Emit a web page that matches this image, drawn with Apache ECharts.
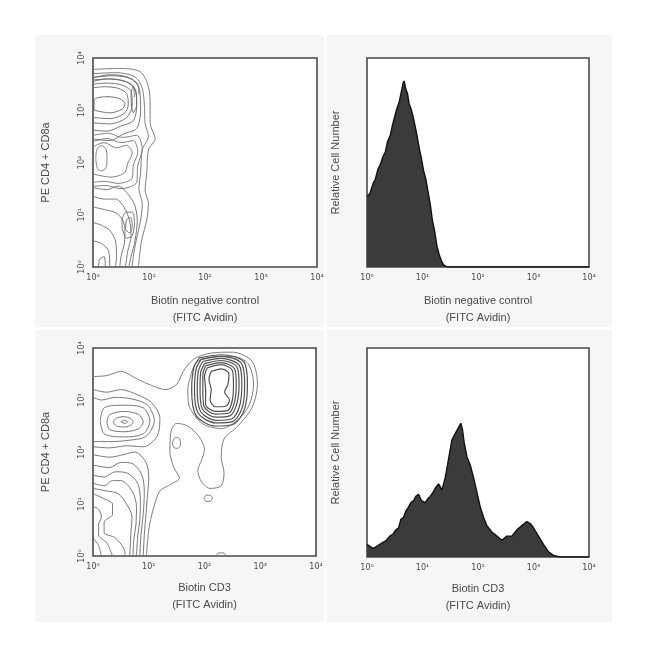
<!DOCTYPE html>
<html>
<head>
<meta charset="utf-8">
<script src="https://cdn.jsdelivr.net/npm/echarts@6/dist/echarts.min.js"></script>
<style>
  html, body { margin: 0; padding: 0; background: #fff; }
  #chart { width: 650px; height: 650px; }
</style>
</head>
<body>
<div id="chart"></div>
<script>
// all x / y positions are in decades (log10 of fluorescence), 0 = 10^0 ... 4 = 10^4
const decadeLabels = ['10\u2070', '10\u00b9', '10\u00b2', '10\u00b3', '10\u2074'];

// top-left: negative control contours [x, y]
const negOuter = [
  [[0,3.78],[0.42,3.8],[0.84,3.74],[0.99,3.45],[1.02,3.07],[1.02,2.75],[1.11,2.46],[0.99,2.24],[0.96,1.79],[0.93,1.47],[0.99,1.22],[0.96,0.9],[0.87,0.52],[0.83,0.2],[0.81,0]],
  [[0,3.7],[0.4,3.72],[0.75,3.64],[0.88,3.42],[0.92,3.05],[0.93,2.75],[0.99,2.5],[0.88,2.25],[0.85,1.8],[0.82,1.5],[0.88,1.2],[0.85,0.9],[0.77,0.5],[0.72,0.2],[0.7,0]]
];
const negTop = [
  [[0,2.45],[0.3,2.42],[0.55,2.55],[0.78,2.65],[0.85,3.0],[0.83,3.4],[0.68,3.6],[0.35,3.66],[0,3.63]],
  [[0,2.62],[0.25,2.6],[0.5,2.7],[0.72,2.8],[0.78,3.1],[0.75,3.4],[0.58,3.55],[0.3,3.6],[0,3.58]],
  [[0,2.76],[0.3,2.74],[0.6,2.86],[0.7,3.1],[0.68,3.36],[0.52,3.48],[0.25,3.52],[0,3.5]],
  [[0,2.86],[0.3,2.84],[0.56,2.94],[0.63,3.12],[0.6,3.32],[0.45,3.42],[0.2,3.45],[0,3.43]],
  [[0.02,3.0],[0.3,2.95],[0.52,3.02],[0.57,3.12],[0.48,3.22],[0.25,3.26],[0.02,3.2],[0.02,3.0]],
  [[0.72,2.95],[0.78,3.1],[0.77,3.35],[0.72,3.45],[0.68,3.3],[0.69,3.05],[0.72,2.95]],
  [[0,3.62],[0.3,3.68],[0.6,3.64],[0.8,3.5],[0.82,3.3]],
  [[0,3.55],[0.25,3.6],[0.55,3.56],[0.72,3.46],[0.74,3.25]]
];
const negMid = [
  [[0,2.3],[0.2,2.38],[0.42,2.28],[0.6,2.33],[0.7,2.18],[0.62,1.98],[0.56,1.8],[0.32,1.72],[0,1.78]],
  [[0.05,2.08],[0.08,1.88],[0.15,1.84],[0.23,1.9],[0.25,2.08],[0.23,2.26],[0.15,2.32],[0.07,2.25],[0.05,2.08]],
  [[0,2.4],[0.25,2.46],[0.5,2.38],[0.72,2.42],[0.8,2.2],[0.72,1.95],[0.7,1.7],[0.45,1.6],[0.2,1.64],[0,1.62]],
  [[0,2.52],[0.28,2.56],[0.52,2.48],[0.78,2.52],[0.88,2.25],[0.8,1.95],[0.78,1.62],[0.5,1.5],[0.22,1.56],[0,1.54]]
];
const negBottom = [
  [[0,1.52],[0.25,1.48],[0.45,1.55],[0.62,1.4],[0.74,1.2],[0.79,0.9],[0.75,0.5],[0.68,0.2],[0.64,0]],
  [[0,1.35],[0.2,1.3],[0.4,1.3],[0.55,1.15],[0.65,0.9],[0.68,0.6],[0.62,0.3],[0.58,0]],
  [[0,1.15],[0.2,1.1],[0.38,1.05],[0.5,0.95],[0.57,0.75],[0.56,0.45],[0.5,0.2],[0.48,0]],
  [[0.52,0.75],[0.6,0.55],[0.7,0.6],[0.74,0.85],[0.7,1.05],[0.6,1.05],[0.52,0.9],[0.52,0.75]],
  [[0.58,0.72],[0.65,0.65],[0.7,0.78],[0.67,0.95],[0.6,0.9],[0.58,0.72]],
  [[0,0.85],[0.15,0.8],[0.3,0.7],[0.4,0.5],[0.42,0.2],[0.4,0]],
  [[0,0.5],[0.15,0.45],[0.28,0.3],[0.3,0]],
  [[0.1,0],[0.12,0.15],[0.2,0.2],[0.22,0]]
];

// bottom-left: CD3 stained contours [x, y]
const cd3Outer = [
  [[0,3.45],[0.25,3.47],[0.5,3.55],[0.8,3.4],[1.05,3.28],[1.3,3.2],[1.5,3.3],[1.62,3.55],[1.8,3.78],[2.1,3.9],[2.5,3.92],[2.85,3.75],[2.95,3.3],[2.85,2.85],[2.6,2.5],[2.35,2.25],[2.3,1.9],[2.35,1.6],[2.3,1.35],[2.1,1.3],[1.95,1.42],[1.88,1.65],[1.95,1.85],[2.0,2.05],[1.9,2.3],[1.7,2.5],[1.5,2.55],[1.4,2.4],[1.38,2.0],[1.45,1.7],[1.55,1.5],[1.4,1.38],[1.2,1.25],[1.08,0.9],[1.0,0.5],[0.96,0]],
  [[1.74,3.42],[1.85,3.72],[2.1,3.82],[2.5,3.84],[2.78,3.7],[2.88,3.3],[2.8,2.9],[2.6,2.62],[2.3,2.45],[2.05,2.5],[1.9,2.6],[1.72,2.9],[1.7,3.2],[1.74,3.42]]
];
const cd3Cluster = [
  [[2.12,3.55],[2.3,3.6],[2.44,3.5],[2.42,3.3],[2.36,3.15],[2.45,3.0],[2.38,2.88],[2.2,2.87],[2.1,3.0],[2.12,3.2],[2.08,3.4],[2.12,3.55]],
  [[2.05,3.62],[2.3,3.68],[2.5,3.57],[2.52,3.3],[2.5,3.0],[2.42,2.8],[2.2,2.78],[2.02,2.92],[2.02,3.2],[2.0,3.45],[2.05,3.62]],
  [[2.02,3.66],[2.3,3.72],[2.54,3.6],[2.57,3.3],[2.54,2.97],[2.44,2.75],[2.2,2.73],[1.99,2.88],[1.97,3.2],[1.97,3.48],[2.02,3.66]],
  [[2.0,3.7],[2.3,3.76],[2.58,3.64],[2.62,3.3],[2.58,2.93],[2.46,2.7],[2.2,2.67],[1.96,2.83],[1.92,3.2],[1.93,3.52],[2.0,3.7]],
  [[1.97,3.74],[2.3,3.8],[2.62,3.67],[2.67,3.3],[2.63,2.89],[2.49,2.64],[2.2,2.61],[1.93,2.78],[1.87,3.2],[1.89,3.56],[1.97,3.74]],
  [[1.94,3.78],[2.3,3.84],[2.66,3.71],[2.72,3.3],[2.68,2.86],[2.51,2.59],[2.2,2.56],[1.89,2.74],[1.82,3.2],[1.85,3.6],[1.94,3.78]],
  [[1.91,3.81],[2.3,3.87],[2.7,3.74],[2.77,3.3],[2.72,2.83],[2.53,2.54],[2.2,2.5],[1.85,2.7],[1.77,3.2],[1.81,3.63],[1.91,3.81]]
];
const cd3Islands = [
  [[1.42,2.17],[1.46,2.08],[1.52,2.07],[1.57,2.15],[1.55,2.26],[1.48,2.28],[1.42,2.17]],
  [[1.99,1.11],[2.03,1.05],[2.1,1.05],[2.14,1.11],[2.1,1.17],[2.03,1.17],[1.99,1.11]],
  [[2.2,0],[2.26,0.06],[2.34,0.06],[2.38,0]]
];
const cd3Upper = [
  [[0,2.1],[0.3,2.08],[0.6,2.12],[0.9,2.1],[1.15,2.3],[1.2,2.65],[1.05,2.95],[0.8,3.1],[0.5,3.2],[0.25,3.15],[0,3.2]],
  [[0,2.2],[0.3,2.2],[0.6,2.22],[0.95,2.3],[1.1,2.6],[0.98,2.9],[0.7,3.02],[0.4,3.05],[0.15,3.0],[0,3.05]],
  [[0.13,2.6],[0.2,2.35],[0.55,2.29],[0.9,2.35],[1.02,2.6],[0.9,2.85],[0.55,2.9],[0.2,2.85],[0.13,2.6]],
  [[0.25,2.58],[0.3,2.43],[0.57,2.39],[0.82,2.45],[0.9,2.58],[0.82,2.72],[0.57,2.78],[0.3,2.72],[0.25,2.58]],
  [[0.36,2.58],[0.42,2.5],[0.57,2.48],[0.68,2.52],[0.72,2.58],[0.68,2.64],[0.55,2.68],[0.42,2.65],[0.36,2.58]],
  [[0.5,2.58],[0.57,2.55],[0.62,2.58],[0.57,2.61],[0.5,2.58]]
];
const cd3Lower = [
  [[0,1.95],[0.3,1.9],[0.55,1.95],[0.75,2.0],[0.95,1.8],[1.0,1.5],[0.98,1.2],[0.95,0.8],[0.92,0.4],[0.9,0]],
  [[0,1.75],[0.3,1.7],[0.5,1.8],[0.7,1.78],[0.88,1.55],[0.92,1.2],[0.9,0.8],[0.86,0.4],[0.84,0]],
  [[0,1.55],[0.2,1.52],[0.4,1.62],[0.6,1.6],[0.8,1.4],[0.85,1.05],[0.84,0.7],[0.8,0.35],[0.78,0]],
  [[0,1.4],[0.2,1.35],[0.35,1.45],[0.5,1.45],[0.7,1.25],[0.78,0.95],[0.77,0.6],[0.73,0.3],[0.72,0]],
  [[0,1.3],[0.25,1.25],[0.45,1.2],[0.6,1.0],[0.7,0.75],[0.68,0.45],[0.66,0]],
  [[0,1.2],[0.2,1.1],[0.35,1.0],[0.35,0.8],[0.2,0.65],[0.2,0.45],[0.4,0.35],[0.55,0.15],[0.58,0]],
  [[0,0.95],[0.1,0.9],[0.15,0.75],[0.1,0.6],[0.1,0.4],[0.25,0.25],[0.35,0]],
  [[0,0.35],[0.1,0.2],[0.15,0]]
];

// top-right histogram (negative control)
const hist1X = [0,0.05,0.11,0.15,0.2,0.24,0.29,0.33,0.37,0.42,0.46,0.5,0.54,0.58,0.62,0.65,0.67,0.7,0.73,0.76,0.79,0.83,0.87,0.9,0.94,0.98,1.02,1.06,1.1,1.14,1.18,1.22,1.26,1.3,1.34,1.38,1.45,4];
const hist1Y = [0.34,0.35,0.4,0.42,0.47,0.49,0.53,0.55,0.6,0.63,0.68,0.72,0.76,0.79,0.84,0.88,0.89,0.85,0.83,0.78,0.76,0.72,0.67,0.63,0.57,0.52,0.46,0.42,0.36,0.3,0.22,0.17,0.1,0.06,0.03,0.01,0,0];

// bottom-right histogram (CD3)
const hist2X = [0,0.06,0.11,0.17,0.23,0.29,0.35,0.41,0.47,0.52,0.57,0.61,0.66,0.7,0.75,0.79,0.84,0.88,0.93,0.98,1.05,1.1,1.14,1.19,1.23,1.29,1.35,1.41,1.47,1.53,1.59,1.65,1.69,1.72,1.75,1.8,1.86,1.92,1.98,2.04,2.1,2.16,2.25,2.34,2.43,2.52,2.61,2.7,2.79,2.88,2.94,3.0,3.09,3.18,3.27,3.36,3.48,4];
const hist2Y = [0.06,0.05,0.04,0.05,0.06,0.07,0.08,0.1,0.11,0.13,0.14,0.18,0.19,0.22,0.24,0.26,0.27,0.29,0.3,0.27,0.26,0.28,0.29,0.31,0.33,0.35,0.32,0.38,0.47,0.56,0.59,0.62,0.64,0.61,0.55,0.48,0.44,0.38,0.31,0.24,0.19,0.15,0.12,0.1,0.08,0.1,0.1,0.13,0.15,0.17,0.16,0.14,0.1,0.06,0.025,0.008,0,0];

const chart = echarts.init(document.getElementById('chart'));

const grids = [
  { left: 93, top: 58, width: 224, height: 209 },
  { left: 367, top: 58, width: 222, height: 209 },
  { left: 93, top: 348, width: 223, height: 208 },
  { left: 367, top: 348, width: 222, height: 209 }
];
const xNames = [
  'Biotin negative control\n(FITC Avidin)',
  'Biotin negative control\n(FITC Avidin)',
  'Biotin CD3\n(FITC Avidin)',
  'Biotin CD3\n(FITC Avidin)'
];
const textColor = '#4a4a4a';

const xAxes = grids.map((g, i) => ({
  type: 'value', gridIndex: i, min: 0, max: 4, interval: 1,
  name: xNames[i], nameLocation: 'middle', nameGap: i < 2 ? 25 : 23,
  nameTextStyle: { fontSize: 11, color: textColor, lineHeight: 17, fontFamily: 'Liberation Sans' },
  axisLine: { show: false }, axisTick: { show: false }, splitLine: { show: false },
  axisLabel: { formatter: v => decadeLabels[v], fontSize: 8, color: textColor, margin: 7, fontFamily: 'DejaVu Sans' }
}));

const yAxes = grids.map((g, i) => {
  const isContour = i % 2 === 0;
  return {
    type: 'value', gridIndex: i, min: 0, max: isContour ? 4 : 1, interval: 1,
    name: isContour ? 'PE CD4 + CD8a' : 'Relative Cell Number',
    nameLocation: 'middle', nameGap: isContour ? 42 : 26,
    nameTextStyle: { fontSize: 11, color: textColor, fontFamily: 'Liberation Sans' },
    axisLine: { show: false }, axisTick: { show: false }, splitLine: { show: false },
    axisLabel: isContour
      ? { formatter: v => decadeLabels[v], fontSize: 8, color: textColor, rotate: 90, margin: 7, fontFamily: 'DejaVu Sans' }
      : { show: false }
  };
});

const series = [];
function addContours(list, gridIdx, color, width) {
  list.forEach(pts => {
    series.push({
      type: 'line', xAxisIndex: gridIdx, yAxisIndex: gridIdx,
      data: pts, smooth: 0.3, showSymbol: false, symbol: 'none', silent: true,
      lineStyle: { color: color, width: width }
    });
  });
}
addContours(negOuter, 0, '#707070', 0.9);
addContours(negTop, 0, '#666666', 0.9);
addContours(negMid, 0, '#747474', 0.9);
addContours(negBottom, 0, '#6a6a6a', 0.9);
addContours(cd3Outer, 2, '#707070', 0.9);
addContours(cd3Cluster, 2, '#505050', 1.2);
addContours(cd3Islands, 2, '#707070', 0.9);
addContours(cd3Upper, 2, '#6a6a6a', 0.9);
addContours(cd3Lower, 2, '#6a6a6a', 0.9);

function addHist(xs, ys, gridIdx) {
  series.push({
    type: 'line', xAxisIndex: gridIdx, yAxisIndex: gridIdx,
    data: xs.map((x, k) => [x, ys[k]]), showSymbol: false, symbol: 'none', silent: true,
    lineStyle: { color: '#111', width: 1.4 },
    areaStyle: { color: '#3b3b3b', opacity: 1 }
  });
}
addHist(hist1X, hist1Y, 1);
addHist(hist2X, hist2Y, 3);

chart.setOption({
  animation: false,
  backgroundColor: '#ffffff',
  graphic: [
    { type: 'rect', shape: { x: 35, y: 35, width: 289, height: 292 }, style: { fill: '#f6f6f6' }, z: -10 },
    { type: 'rect', shape: { x: 327, y: 35, width: 285, height: 292 }, style: { fill: '#f6f6f6' }, z: -10 },
    { type: 'rect', shape: { x: 35, y: 330, width: 289, height: 292 }, style: { fill: '#f6f6f6' }, z: -10 },
    { type: 'rect', shape: { x: 327, y: 330, width: 285, height: 292 }, style: { fill: '#f6f6f6' }, z: -10 }
  ],
  grid: grids.map(g => Object.assign({ show: true, backgroundColor: '#ffffff', borderColor: '#4a4a4a', borderWidth: 1.6 }, g)),
  xAxis: xAxes,
  yAxis: yAxes,
  series: series
});
</script>
</body>
</html>
